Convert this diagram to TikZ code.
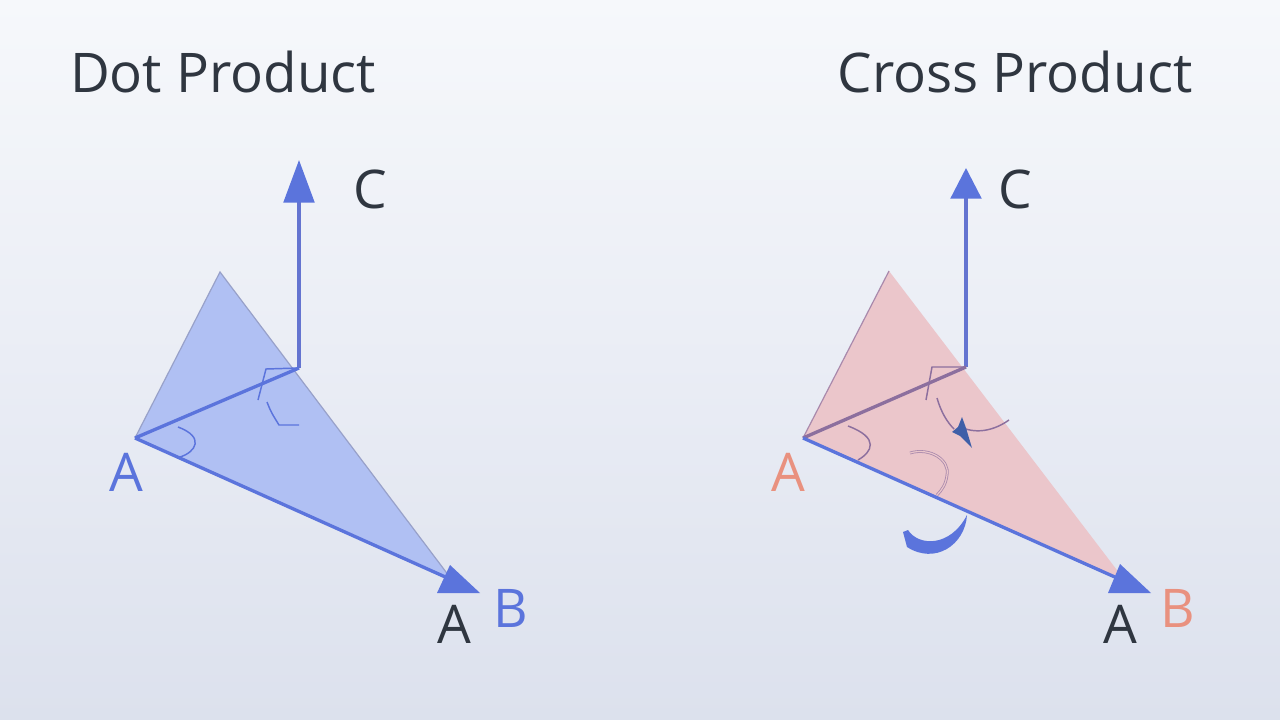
\documentclass[tikz,border=0pt]{standalone}
\usepackage{fontspec}
\setmainfont{Open Sans}
\usepackage{tikz}
\usetikzlibrary{arrows.meta,calc}

\definecolor{inkdark}{HTML}{2F3640}
\definecolor{vecblue}{HTML}{5B74DC}
\definecolor{vecshaft}{HTML}{6474D0}
\definecolor{leftfill}{HTML}{B0C0F3}
\definecolor{rightfill}{HTML}{EBC6CB}
\definecolor{labelred}{HTML}{E9917F}
\definecolor{markmauve}{HTML}{8C6F9E}
\definecolor{markdark}{HTML}{3F5FA8}
\definecolor{bgtop}{HTML}{F6F8FB}
\definecolor{bgmid}{HTML}{EAEDF5}
\definecolor{bgbot}{HTML}{DCE1ED}

\tikzset{
  title/.style={font=\fontsize{41}{41}\selectfont, text=inkdark},
  letter/.style={font=\fontsize{40}{40}\selectfont, inner sep=0pt},
  vec/.style={draw=vecshaft, line width=2.5pt},
  tick/.style={line width=1.1pt},
}

\begin{document}
\begin{tikzpicture}[x=.75pt,y=-.75pt]
  \fill[top color=bgtop, bottom color=bgbot, middle color=bgmid]
    (0,0) rectangle (1280,720);
  \useasboundingbox (0,0) rectangle (1280,720);

  \node[title] (dot) at (223,72) {Dot Product};
  \node[title] (cross) at (1015,72) {Cross Product};

  % left figure
  \coordinate (la) at (135,438);
  \coordinate (lt) at (220,272);
  \coordinate (lb) at (452,580);
  \coordinate (lc) at (299,368);
  \coordinate (lu) at (299,160);
  \fill[leftfill] (la) -- (lt) -- (lb) -- cycle;
  \draw[vecblue!55!gray!70, line width=.9pt] (la) -- (lt) -- (lb);
  \draw[vec,-{Triangle[length=32pt,width=23pt,color=vecblue]}] (lc) -- (lu);
  \draw[vec,draw=vecblue,line join=round] (la) -- (lc);
  \draw[vec,draw=vecblue] (la) -- (lb);
  \fill[vecblue] (480,593) -- (437,593) -- (450,565) -- cycle;
  \draw[vecblue,tick] (258,400) -- (266,369) -- (299,368);
  \draw[vecblue,tick] (267,402) .. controls (271,412) .. (279,425) -- (299,425);
  \draw[vecblue,tick] (178,427) .. controls (205,437) and (196,452) .. (180,457);
  \node[letter,text=vecblue] (lblA) at (126,472) {A};
  \node[letter,text=inkdark] (lblC) at (370,189) {C};
  \node[letter,text=inkdark] (lblD) at (454,624) {A};
  \node[letter,text=vecblue] (lblB) at (511,608) {B};

  % right figure
  \coordinate (ra) at (803,438);
  \coordinate (rt) at (889,271);
  \coordinate (rb) at (1126,582);
  \coordinate (rc) at (966,367);
  \coordinate (ru) at (966,168);
  \fill[rightfill] (ra) -- (rt) -- (rb) -- cycle;
  \draw[markmauve!70!rightfill, line width=.9pt] (ra) -- (rt);
  \draw[vec,-{Triangle[length=23pt,width=23pt,color=vecblue]}] (rc) -- (ru);
  \draw[vec,draw=markmauve] (ra) -- (rc);
  \draw[vec,draw=vecblue] (ra) -- (rb);
  \fill[vecblue] (1151,593) -- (1108,593) -- (1120,564) -- cycle;
  \draw[markmauve,tick] (926,400) -- (932,367) -- (966,367);
  \draw[markmauve,tick] (848,426) .. controls (880,438) and (872,452) .. (858,460);
  \draw[markmauve,tick] (937,398) .. controls (941,412) and (947,422) .. (954,429);
  \draw[markmauve,tick] (963,428) .. controls (978,434) and (995,430) .. (1009,420);
  \fill[markdark] (962,417) -- (966,428) -- (972,448) -- (960,436) -- (952,432) -- (958,427) -- cycle;
  \draw[markmauve!70!rightfill,line width=.6pt,double=rightfill,double distance=.9pt]
    (910,453) .. controls (930,447) and (950,460) .. (947,475) .. controls (946,484) and (942,490) .. (937,495);
  \fill[vecblue] (967,515) .. controls (965,545) and (935,565) .. (907,547)
    -- (903,532) -- (908,530) .. controls (918,546) and (950,548) .. (967,515) -- cycle;
  \node[letter,text=labelred] (rblA) at (788,472) {A};
  \node[letter,text=inkdark] (rblC) at (1015,189) {C};
  \node[letter,text=inkdark] (rblD) at (1120,624) {A};
  \node[letter,text=labelred] (rblB) at (1178,608) {B};
\end{tikzpicture}
\end{document}
